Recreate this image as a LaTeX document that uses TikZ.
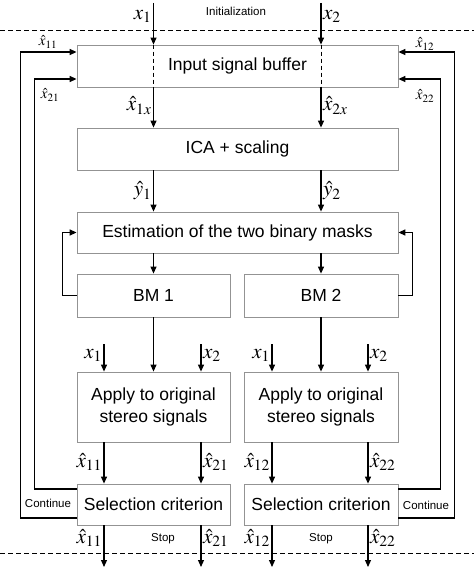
\documentclass[tikz,border=0pt]{standalone}
\usepackage{mathptmx}
\usepackage[no-math]{fontspec}
\setmainfont{Liberation Sans}
\usetikzlibrary{positioning,calc,arrows.meta}

\begin{document}
\begin{tikzpicture}[x=1pt,y=-1pt,
    block/.style={draw=gray!85,line width=0.8pt,minimum height=42pt,inner sep=0pt,align=center,font=\fontsize{17.5}{22}\selectfont},
    sig/.style={line width=1.1pt,-{Triangle[length=7pt,width=6pt]}},
    fback/.style={line width=1.4pt,-{Triangle[length=7pt,width=6pt]}},
    lab/.style={inner sep=1.5pt,font=\fontsize{21}{22}\selectfont},
    loopLab/.style={inner sep=0pt,font=\fontsize{15}{16}\selectfont},
    tag/.style={inner sep=0pt,font=\fontsize{11.5}{13}\selectfont},
    sep/.style={line width=1pt,dash pattern=on 5pt off 3pt}]
    \useasboundingbox (0,0) rectangle (474,567);

    % Blocks
    \node[block,minimum width=321pt] (buf) at (237.5,66) {Input signal buffer};
    \node[block,minimum width=321pt] (ica) at (237.5,149) {ICA + scaling};
    \node[block,minimum width=321pt,minimum height=41pt] (est) at (237.5,232.5) {Estimation of the two binary masks};
    \node[block,minimum width=153pt,minimum height=43pt] (bmA) at (153.5,295.5) {BM 1};
    \node[block,minimum width=154pt,minimum height=43pt] (bmB) at (321,295.5) {BM 2};
    \node[block,minimum width=153pt,minimum height=70pt] (appA) at (153.5,407) {Apply to original\\stereo signals};
    \node[block,minimum width=154pt,minimum height=70pt] (appB) at (321,407) {Apply to original\\stereo signals};
    \node[block,minimum width=153pt,minimum height=41pt] (selA) at (153.5,504.5) {Selection criterion};
    \node[block,minimum width=154pt,minimum height=41pt] (selB) at (321,504.5) {Selection criterion};

    % Initialization / stop lines
    \draw[sep] (0,31) -- (474,31);
    \draw[sep] (0,553) -- (474,553);
    \node[tag] (init) at (236,11) {Initialization};

    % Inputs and buffer
    \coordinate (inA) at (153.5,3);
    \coordinate (inB) at (321,3);
    \draw[sig] (inA) -- node[lab,left,pos=0.33]{$x_1$} (inA |- buf.north);
    \draw[sig] (inB) -- node[lab,right,pos=0.33]{$x_2$} (inB |- buf.north);
    \draw[sep,dash pattern=on 4pt off 3pt] (inA |- buf.north) -- (inA |- buf.south);
    \draw[sep,dash pattern=on 4pt off 3pt] (inB |- buf.north) -- (inB |- buf.south);
    \draw[sig] (inA |- buf.south) -- node[lab,left,pos=0.45]{$\hat{x}_{1x}$} (inA |- ica.north);
    \draw[sig] (inB |- buf.south) -- node[lab,right,pos=0.45]{$\hat{x}_{2x}$} (inB |- ica.north);

    % ICA to masks
    \draw[sig] (inA |- ica.south) -- node[lab,left,pos=0.5]{$\hat{y}_1$} (inA |- est.north);
    \draw[sig] (inB |- ica.south) -- node[lab,right,pos=0.5]{$\hat{y}_2$} (inB |- est.north);
    \draw[sig] (bmA.north |- est.south) -- (bmA.north);
    \draw[sig] (bmB.north |- est.south) -- (bmB.north);
    \draw[fback] (bmA.west) -- ++(-14,0) |- (est.west);
    \draw[fback] (bmB.east) -- ++(14,0) |- (est.east);

    % Masks to stereo signals
    \coordinate (xa1) at (104,344);
    \coordinate (xa2) at (201,344);
    \coordinate (xb1) at (272,344);
    \coordinate (xb2) at (368,344);
    \draw[sig] (bmA.south) -- (appA.north);
    \draw[sig] (bmB.south) -- (appB.north);
    \draw[sig] (xa1) -- node[lab,left,pos=0.4]{$x_1$} (xa1 |- appA.north);
    \draw[sig] (xa2) -- node[lab,right,pos=0.4]{$x_2$} (xa2 |- appA.north);
    \draw[sig] (xb1) -- node[lab,left,pos=0.4]{$x_1$} (xb1 |- appB.north);
    \draw[sig] (xb2) -- node[lab,right,pos=0.4]{$x_2$} (xb2 |- appB.north);

    % Stereo signals to selection
    \draw[sig] (xa1 |- appA.south) -- node[lab,left,pos=0.48]{$\hat{x}_{11}$} (xa1 |- selA.north);
    \draw[sig] (xa2 |- appA.south) -- node[lab,right,pos=0.48]{$\hat{x}_{21}$} (xa2 |- selA.north);
    \draw[sig] (xb1 |- appB.south) -- node[lab,left,pos=0.48]{$\hat{x}_{12}$} (xb1 |- selB.north);
    \draw[sig] (xb2 |- appB.south) -- node[lab,right,pos=0.48]{$\hat{x}_{22}$} (xb2 |- selB.north);

    % Stop outputs
    \coordinate (oa1) at (104,567);
    \coordinate (oa2) at (201,567);
    \coordinate (ob1) at (272,567);
    \coordinate (ob2) at (368,567);
    \draw[sig] (xa1 |- selA.south) -- node[lab,left,pos=0.3]{$\hat{x}_{11}$} (oa1);
    \draw[sig] (xa2 |- selA.south) -- node[lab,right,pos=0.3]{$\hat{x}_{21}$} (oa2);
    \draw[sig] (xb1 |- selB.south) -- node[lab,left,pos=0.3]{$\hat{x}_{12}$} (ob1);
    \draw[sig] (xb2 |- selB.south) -- node[lab,right,pos=0.3]{$\hat{x}_{22}$} (ob2);
    \node[tag] (stopA) at (163,539) {Stop};
    \node[tag] (stopB) at (321,539) {Stop};

    % Continue loops
    \draw[fback] ([yshift=-13.5pt]selA.west) -- ++(-56,0) |- ([yshift=14pt]buf.west);
    \draw[fback] ([yshift=15.5pt]selA.west) -- ++(-42,0) |- ([yshift=-13pt]buf.west);
    \draw[fback] ([yshift=-13.5pt]selB.east) -- ++(56,0) |- ([yshift=14pt]buf.east);
    \draw[fback] ([yshift=15.5pt]selB.east) -- ++(42,0) |- ([yshift=-13pt]buf.east);
    \node[tag] (contA) at (48,503) {Continue};
    \node[tag] (contB) at (426,505) {Continue};
    \node[loopLab] (l11) at (48,42) {$\hat{x}_{11}$};
    \node[loopLab] (l21) at (50,95) {$\hat{x}_{21}$};
    \node[loopLab] (l12) at (425,44) {$\hat{x}_{12}$};
    \node[loopLab] (l22) at (425,96) {$\hat{x}_{22}$};
\end{tikzpicture}
\end{document}
